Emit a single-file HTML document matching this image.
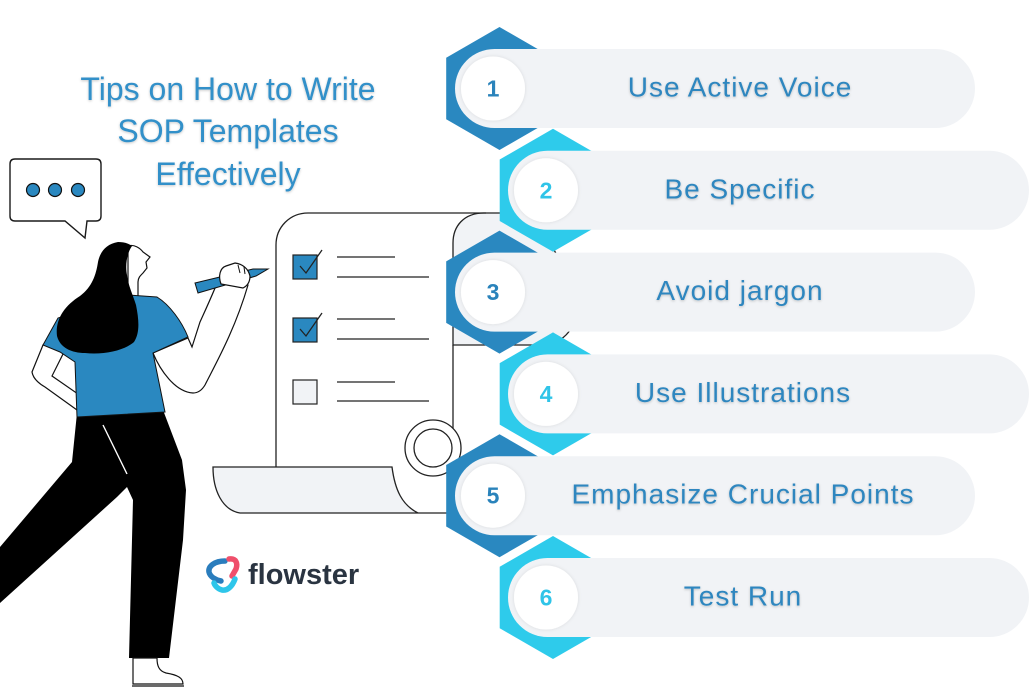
<!DOCTYPE html>
<html><head><meta charset="utf-8"><style>
html,body{margin:0;padding:0;background:#fff;}
svg{display:block;}
.t{font-family:"Liberation Sans",sans-serif;}
</style></head><body>
<svg width="1030" height="687" viewBox="0 0 1030 687" xmlns="http://www.w3.org/2000/svg">
<defs>
<filter id="ts" x="-10%" y="-30%" width="120%" height="160%"><feDropShadow dx="0" dy="1" stdDeviation="1.3" flood-color="#000" flood-opacity="0.22"/></filter>
<filter id="cs" x="-20%" y="-20%" width="140%" height="140%"><feDropShadow dx="0" dy="0" stdDeviation="1.8" flood-color="#000" flood-opacity="0.10"/></filter>
</defs>
<rect width="1030" height="687" fill="#fff"/>

<!-- Title -->
<g class="t" font-size="32" fill="#3390c9" text-anchor="middle" filter="url(#ts)">
<text x="228" y="100">Tips on How to Write</text>
<text x="228" y="142">SOP Templates</text>
<text x="228" y="185">Effectively</text>
</g>

<!-- Speech bubble -->
<path d="M15,159 H96 Q101,159 101,164 V216 Q101,221 96,221 H87 L85,238 L65,221 H15 Q10,221 10,216 V164 Q10,159 15,159 Z" fill="#fff" stroke="#1a1a1a" stroke-width="1.4"/>
<circle cx="33" cy="190" r="6.5" fill="#2a88c0" stroke="#111" stroke-width="1.2"/>
<circle cx="55" cy="190" r="6.5" fill="#2a88c0" stroke="#111" stroke-width="1.2"/>
<circle cx="78" cy="190" r="6.5" fill="#2a88c0" stroke="#111" stroke-width="1.2"/>

<!-- Checklist scroll -->
<path d="M453,345 V243 C453,226 464,213 484,213 H505 C540,213 562,258 575,300 C580,325 565,345 540,345 Z" fill="#f1f3f6" stroke="#222" stroke-width="1.3"/>
<path d="M276,470 V245 C276,227 290,213 308,213 H486" fill="none" stroke="#222" stroke-width="1.3"/>
<path d="M453,345 V515" fill="none" stroke="#222" stroke-width="1.3"/>
<path d="M213,467 H392 C395,490 402,505 418,513 H240 C222,510 213,490 213,467 Z" fill="#f1f3f6" stroke="#222" stroke-width="1.3"/>
<path d="M418,513 H462" stroke="#222" stroke-width="1.3"/>
<circle cx="433" cy="448" r="28" fill="#fff" stroke="#222" stroke-width="1.3"/>
<circle cx="433" cy="448" r="19" fill="#fff" stroke="#222" stroke-width="1.3"/>
<rect x="293" y="255" width="24" height="24" fill="#2a88c0" stroke="#222" stroke-width="1.2"/>
<path d="M300,266 L306,273 L322,250" fill="none" stroke="#222" stroke-width="1.3"/>
<rect x="293" y="318" width="24" height="24" fill="#2a88c0" stroke="#222" stroke-width="1.2"/>
<path d="M300,329 L306,336 L322,313" fill="none" stroke="#222" stroke-width="1.3"/>
<rect x="293" y="380" width="24" height="24" fill="#f1f3f6" stroke="#222" stroke-width="1.2"/>
<g stroke="#222" stroke-width="1.3">
<line x1="337" y1="257" x2="395" y2="257"/><line x1="337" y1="277" x2="429" y2="277"/>
<line x1="337" y1="319" x2="395" y2="319"/><line x1="337" y1="339" x2="429" y2="339"/>
<line x1="337" y1="382" x2="395" y2="382"/><line x1="337" y1="401" x2="429" y2="401"/>
</g>

<!-- Woman -->
<path d="M58,330 L43,345 L32,372 C33,378 38,383 45,387 L77,410 L78,394 L52,376 L64,352 Z" fill="#fff" stroke="#111" stroke-width="1.2"/>
<path d="M77,413 L163,410 L182,460 L186,490 L183,540 L169,658 L129,658 L133,500 L127,487 L117,497 L0,603 L0,547 L72,462 Z" fill="#000"/>
<line x1="103" y1="425" x2="127" y2="474" stroke="#fff" stroke-width="1.4"/>
<path d="M133,658 L133,684 L183,684 C183,678 178,675 166,673 C159,671 157,666 157,658 Z" fill="#fff" stroke="#111" stroke-width="1.2"/>
<line x1="132" y1="686" x2="184" y2="686" stroke="#111" stroke-width="1.2"/>
<path d="M153,353 C160,370 175,392 193,393 C198,393 202,390 205,385 C215,365 235,330 248,285 L222,270 C217,285 210,300 200,322 L192,347 L188,338 Z" fill="#fff" stroke="#111" stroke-width="1.2"/>
<path d="M128,246 C134,244 140,248 143,252 L150,257 L146,262 L147,268 L143,273 C140,276 138,278 138,282 L138,296 L128,297 Z" fill="#fff" stroke="#111" stroke-width="1.2"/>
<path d="M128,295 L157,297 C170,305 182,322 188,337 L153,353 L165,412 L77,417 L75,362 L60,352 L43,345 L58,318 Z" fill="#2a88c0" stroke="#111" stroke-width="1"/>
<path d="M118,242 C106,244 100,252 98,262 C96,275 92,287 80,296 C64,306 55,320 57,336 C60,348 72,353 85,353 C105,355 125,350 134,342 C140,333 139,320 136,305 C133,295 128,285 127,275 C125,265 127,253 132,246 C128,243 123,242 118,242 Z" fill="#000"/>
<path d="M195,283 L253,269 L268,269 L256,276 L198,293 Z" fill="#2a88c0" stroke="#111" stroke-width="1"/>
<path d="M221,284 C218,276 220,268 226,266 L235,263 C242,264 248,268 250,276 C250,282 247,286 243,288 Z" fill="#fff" stroke="#111" stroke-width="1.2"/>
<path d="M238,265 L240,273 M244,267 L245,274" stroke="#111" stroke-width="1"/>

<!-- Logo -->
<path d="M225,561 C215,561 208,566 209,572 C210,577 216,580 221,581" fill="none" stroke="#2a7dbd" stroke-width="5.5" stroke-linecap="round"/>
<path d="M229,559 C236,558 238,563 236,569 L232,576" fill="none" stroke="#ef4f6b" stroke-width="5.5" stroke-linecap="round"/>
<path d="M235,579 C232,587 227,591 222,590 C218,589 215,586 214,583" fill="none" stroke="#2ec6ea" stroke-width="5.5" stroke-linecap="round"/>
<text class="t" x="248" y="584" font-size="29" font-weight="bold" fill="#2a3441">flowster</text>

<!-- Row 1 -->
<g transform="translate(0,88.5)">
<polygon points="499.5,-61.5 552.8,-30.75 552.8,30.75 499.5,61.5 446.2,30.75 446.2,-30.75" fill="#2a88c0"/>
<rect x="455" y="-39.5" width="520" height="79" rx="39.5" fill="#f1f3f6"/>
<circle cx="493" cy="0" r="32" fill="#fff" filter="url(#cs)"/>
<text class="t" x="493" y="8" font-size="23" font-weight="bold" fill="#2a83bb" text-anchor="middle">1</text>
<text class="t" x="740" y="8" font-size="28" letter-spacing="1" fill="#2d86bf" text-anchor="middle" filter="url(#ts)">Use Active Voice</text>
</g>
<!-- Row 2 -->
<g transform="translate(0,190.3)">
<polygon points="553,-61.5 606.3,-30.75 606.3,30.75 553,61.5 499.7,30.75 499.7,-30.75" fill="#2ecbeb"/>
<rect x="508" y="-39.5" width="521" height="79" rx="39.5" fill="#f1f3f6"/>
<circle cx="546" cy="0" r="32" fill="#fff" filter="url(#cs)"/>
<text class="t" x="546" y="8" font-size="23" font-weight="bold" fill="#2fc4e8" text-anchor="middle">2</text>
<text class="t" x="740" y="8" font-size="28" letter-spacing="1" fill="#2d86bf" text-anchor="middle" filter="url(#ts)">Be Specific</text>
</g>
<!-- Row 3 -->
<g transform="translate(0,292.1)">
<polygon points="499.5,-61.5 552.8,-30.75 552.8,30.75 499.5,61.5 446.2,30.75 446.2,-30.75" fill="#2a88c0"/>
<rect x="455" y="-39.5" width="520" height="79" rx="39.5" fill="#f1f3f6"/>
<circle cx="493" cy="0" r="32" fill="#fff" filter="url(#cs)"/>
<text class="t" x="493" y="8" font-size="23" font-weight="bold" fill="#2a83bb" text-anchor="middle">3</text>
<text class="t" x="740" y="8" font-size="28" letter-spacing="1" fill="#2d86bf" text-anchor="middle" filter="url(#ts)">Avoid jargon</text>
</g>
<!-- Row 4 -->
<g transform="translate(0,393.9)">
<polygon points="553,-61.5 606.3,-30.75 606.3,30.75 553,61.5 499.7,30.75 499.7,-30.75" fill="#2ecbeb"/>
<rect x="508" y="-39.5" width="521" height="79" rx="39.5" fill="#f1f3f6"/>
<circle cx="546" cy="0" r="32" fill="#fff" filter="url(#cs)"/>
<text class="t" x="546" y="8" font-size="23" font-weight="bold" fill="#2fc4e8" text-anchor="middle">4</text>
<text class="t" x="743" y="8" font-size="28" letter-spacing="1" fill="#2d86bf" text-anchor="middle" filter="url(#ts)">Use Illustrations</text>
</g>
<!-- Row 5 -->
<g transform="translate(0,495.7)">
<polygon points="499.5,-61.5 552.8,-30.75 552.8,30.75 499.5,61.5 446.2,30.75 446.2,-30.75" fill="#2a88c0"/>
<rect x="455" y="-39.5" width="520" height="79" rx="39.5" fill="#f1f3f6"/>
<circle cx="493" cy="0" r="32" fill="#fff" filter="url(#cs)"/>
<text class="t" x="493" y="8" font-size="23" font-weight="bold" fill="#2a83bb" text-anchor="middle">5</text>
<text class="t" x="743" y="8" font-size="28" letter-spacing="1" fill="#2d86bf" text-anchor="middle" filter="url(#ts)">Emphasize Crucial Points</text>
</g>
<!-- Row 6 -->
<g transform="translate(0,597.5)">
<polygon points="553,-61.5 606.3,-30.75 606.3,30.75 553,61.5 499.7,30.75 499.7,-30.75" fill="#2ecbeb"/>
<rect x="508" y="-39.5" width="521" height="79" rx="39.5" fill="#f1f3f6"/>
<circle cx="546" cy="0" r="32" fill="#fff" filter="url(#cs)"/>
<text class="t" x="546" y="8" font-size="23" font-weight="bold" fill="#2fc4e8" text-anchor="middle">6</text>
<text class="t" x="743" y="8" font-size="28" letter-spacing="1" fill="#2d86bf" text-anchor="middle" filter="url(#ts)">Test Run</text>
</g>
</svg>
</body></html>
